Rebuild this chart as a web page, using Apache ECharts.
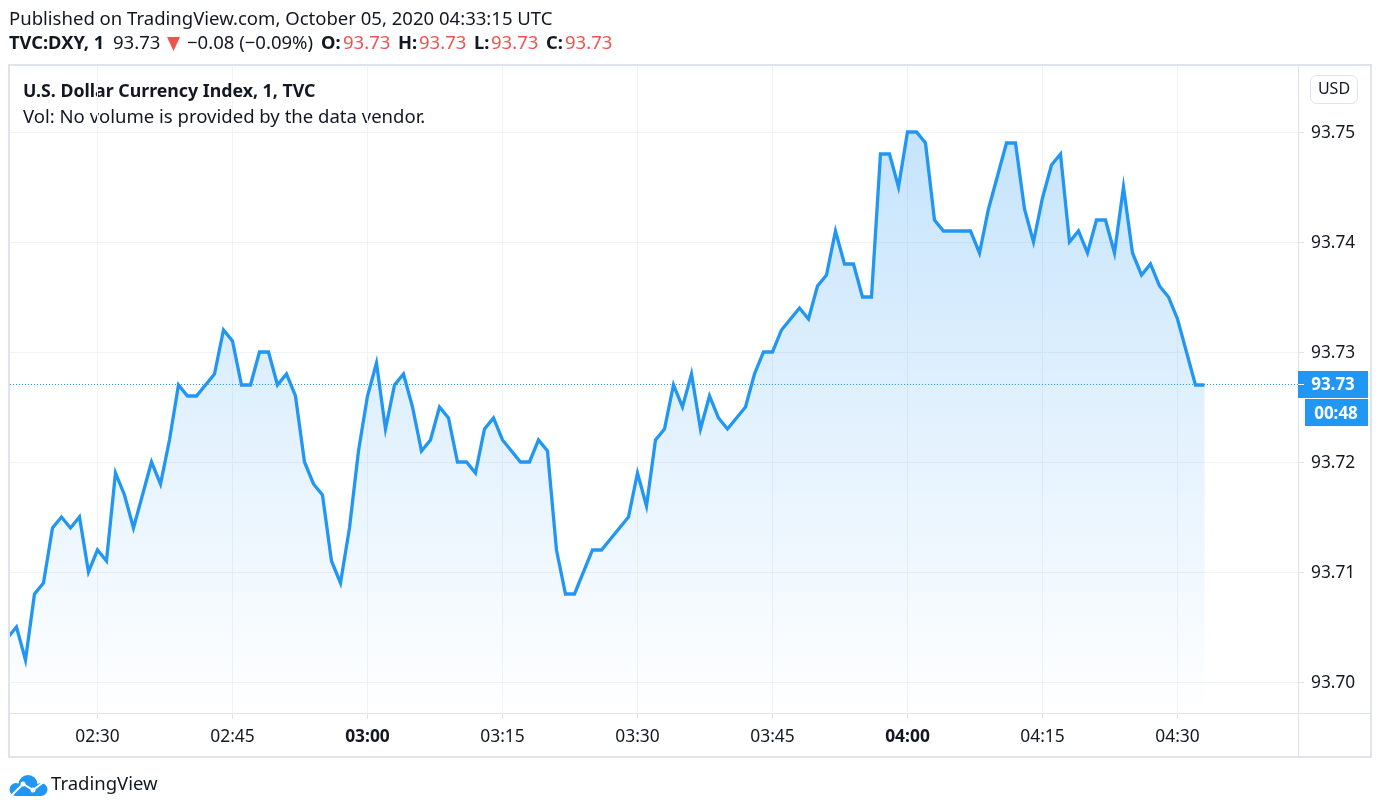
<!DOCTYPE html>
<html>
<head>
<meta charset="utf-8">
<title>U.S. Dollar Currency Index, 1, TVC</title>
<script src="https://cdn.jsdelivr.net/npm/echarts@6/dist/echarts.min.js"></script>
<style>
  html, body { margin: 0; padding: 0; background: #ffffff; }
  #chart { width: 1381px; height: 812px; }
</style>
</head>
<body>
<div id="chart"></div>
<script>
// One-minute closes of DXY, starting at 02:20 UTC
const firstBar = '02:20';
const closes = [
  93.704, 93.705, 93.702, 93.708, 93.709, 93.714, 93.715, 93.714, 93.715, 93.710,
  93.712, 93.711, 93.719, 93.717, 93.714, 93.717, 93.720, 93.718, 93.722, 93.727,
  93.726, 93.726, 93.727, 93.728, 93.732, 93.731, 93.727, 93.727, 93.730, 93.730,
  93.727, 93.728, 93.726, 93.720, 93.718, 93.717, 93.711, 93.709, 93.714, 93.721,
  93.726, 93.729, 93.723, 93.727, 93.728, 93.725, 93.721, 93.722, 93.725, 93.724,
  93.720, 93.720, 93.719, 93.723, 93.724, 93.722, 93.721, 93.720, 93.720, 93.722,
  93.721, 93.712, 93.708, 93.708, 93.710, 93.712, 93.712, 93.713, 93.714, 93.715,
  93.719, 93.716, 93.722, 93.723, 93.727, 93.725, 93.728, 93.723, 93.726, 93.724,
  93.723, 93.724, 93.725, 93.728, 93.730, 93.730, 93.732, 93.733, 93.734, 93.733,
  93.736, 93.737, 93.741, 93.738, 93.738, 93.735, 93.735, 93.748, 93.748, 93.745,
  93.750, 93.750, 93.749, 93.742, 93.741, 93.741, 93.741, 93.741, 93.739, 93.743,
  93.746, 93.749, 93.749, 93.743, 93.740, 93.744, 93.747, 93.748, 93.740, 93.741,
  93.739, 93.742, 93.742, 93.739, 93.745, 93.739, 93.737, 93.738, 93.736, 93.735,
  93.733, 93.730, 93.727, 93.727
];
const timeTicks = ['02:30', '02:45', '03:00', '03:15', '03:30', '03:45', '04:00', '04:15', '04:30'];
const boldTimeTicks = ['03:00', '04:00'];
const priceTicks = [93.70, 93.71, 93.72, 93.73, 93.74, 93.75];
const lastPriceLabel = '93.73';
const countdownLabel = '00:48';

const BLUE = '#2196f3';
const RED = '#ef5350';
const INK = '#131722';
const FRAME = '#e0e3eb';
const GRIDLINE = '#f0f3fa';
const FONT = '"Noto Sans", sans-serif';

const toMinutes = t => { const [h, m] = t.split(':').map(Number); return h * 60 + m; };
const toClock = v => {
  const h = Math.floor(v / 60), m = Math.round(v - h * 60);
  return String(h).padStart(2, '0') + ':' + String(m).padStart(2, '0');
};
const start = toMinutes(firstBar);
const points = closes.map((c, i) => [start + i, c]);
const lastClose = closes[closes.length - 1];

const headerText = (x, y, text, opts = {}) => ({
  type: 'text', x, y, silent: true,
  style: {
    text,
    fill: opts.fill || INK,
    font: (opts.bold ? 'bold ' : '') + (opts.size || 18.55) + 'px ' + FONT,
    textVerticalAlign: 'middle'
  }
});
const cloudLump = (cx, cy, r) => ({
  type: 'circle', silent: true, shape: { cx, cy, r }, style: { fill: BLUE }
});
const separator = (x1, y1, x2, y2) => ({
  type: 'line', silent: true, z: 5, shape: { x1, y1, x2, y2 }, style: { stroke: FRAME, lineWidth: 1 }
});

const chart = echarts.init(document.getElementById('chart'), null, { renderer: 'canvas' });

const staticGraphics = [
  // Outer frame of the pane, drawn over the plot so the clipped line ends at its edge
  { type: 'rect', z: 20, shape: { x: 9, y: 65, width: 1362, height: 692 },
    style: { fill: 'none', stroke: FRAME, lineWidth: 2 }, silent: true },
  // Separators between the plot and the two scales run the full width and height
  separator(1298.5, 66, 1298.5, 756),
  separator(10, 713.5, 1370, 713.5),

  headerText(9, 20, 'Published on TradingView.com, October 05, 2020 04:33:15 UTC'),
  headerText(9, 44, 'TVC:DXY, 1', { bold: true, size: 18.3 }),
  headerText(113, 44, '93.73'),
  { type: 'polygon', silent: true, shape: { points: [[167, 37], [180, 37], [173.5, 51]] }, style: { fill: RED } },
  headerText(187, 44, '\u22120.08 (\u22120.09%)'),
  headerText(321, 44, 'O:', { bold: true, size: 18.3 }),
  headerText(343, 44, '93.73', { fill: RED }),
  headerText(398, 44, 'H:', { bold: true, size: 18.3 }),
  headerText(419, 44, '93.73', { fill: RED }),
  headerText(474, 44, 'L:', { bold: true, size: 18.3 }),
  headerText(491, 44, '93.73', { fill: RED }),
  headerText(546, 44, 'C:', { bold: true, size: 18.3 }),
  headerText(565, 44, '93.73', { fill: RED }),

  headerText(23, 92, 'U.S. Dollar Currency Index, 1, TVC', { bold: true, size: 17.75 }),
  headerText(23, 118, 'Vol: No volume is provided by the data vendor.'),

  // Currency badge above the price scale
  { type: 'rect', silent: true, shape: { x: 1310.5, y: 75.5, width: 47, height: 28, r: 6 },
    style: { fill: '#ffffff', stroke: FRAME, lineWidth: 1 } },
  { type: 'text', silent: true, x: 1334, y: 89,
    style: { text: 'USD', fill: INK, font: '16px ' + FONT, textAlign: 'center', textVerticalAlign: 'middle' } },

  // Brand mark in the footer: a cloud built from overlapping lumps with a white trend line
  cloudLump(16, 789.5, 6.5),
  cloudLump(28, 784.5, 9.5),
  cloudLump(41, 789.5, 6.5),
  { type: 'rect', silent: true, shape: { x: 15, y: 787, width: 27, height: 9 }, style: { fill: BLUE } },
  { type: 'polyline', silent: true, shape: { points: [[11, 796], [23, 784], [33, 790], [45, 781]] },
    style: { fill: 'none', stroke: '#ffffff', lineWidth: 2 } },
  { type: 'circle', silent: true, shape: { cx: 23, cy: 784, r: 2.5 }, style: { fill: '#ffffff' } },
  { type: 'circle', silent: true, shape: { cx: 33, cy: 790, r: 2.5 }, style: { fill: '#ffffff' } },
  headerText(51, 785, 'TradingView')
];

chart.setOption({
  animation: false,
  backgroundColor: '#ffffff',
  grid: { left: 10, top: 66, width: 1288, height: 647, containLabel: false },
  xAxis: {
    type: 'value',
    min: 140.28,
    max: 283.39,
    axisLine: { show: false, onZero: false },
    axisTick: { show: true, length: 6, lineStyle: { color: FRAME }, customValues: timeTicks.map(toMinutes) },
    splitLine: { show: true, lineStyle: { color: GRIDLINE, width: 1 } },
    axisLabel: {
      customValues: timeTicks.map(toMinutes),
      margin: 16,
      color: INK,
      fontFamily: FONT,
      fontSize: 17.4,
      formatter: v => {
        const t = toClock(v);
        return boldTimeTicks.includes(t) ? '{b|' + t + '}' : t;
      },
      rich: { b: { fontWeight: 'bold', fontFamily: FONT, fontSize: 17.4, color: INK } }
    }
  },
  yAxis: {
    type: 'value',
    position: 'right',
    min: 93.69718,
    max: 93.756,
    axisLine: { show: false, onZero: false },
    axisTick: { show: true, length: 6, lineStyle: { color: FRAME }, customValues: priceTicks },
    splitLine: { show: true, lineStyle: { color: GRIDLINE, width: 1 } },
    axisLabel: {
      customValues: priceTicks,
      margin: 13,
      color: INK,
      fontFamily: FONT,
      fontSize: 17.3,
      formatter: v => '{p|' + v.toFixed(2) + '}',
      rich: { p: { padding: [3, 0, 0, 0], fontFamily: FONT, fontSize: 17.3, color: INK } }
    }
  },
  series: [{
    type: 'line',
    data: points,
    showSymbol: false,
    symbol: 'none',
    smooth: false,
    clip: true,
    lineStyle: { color: BLUE, width: 3.3, join: 'miter', miterLimit: 10, cap: 'butt' },
    areaStyle: {
      origin: 'start',
      opacity: 1,
      color: new echarts.graphic.LinearGradient(0, 0, 0, 1, [
        { offset: 0, color: 'rgba(33,150,243,0.26)' },
        { offset: 1, color: 'rgba(33,150,243,0.00)' }
      ])
    }
  }],
  graphic: staticGraphics
});

// The dotted last-price line and its tags follow the scale position of the last close
const tagY = Math.round(chart.convertToPixel({ yAxisIndex: 0 }, lastClose));
const tagText = (x, y, text) => ({
  type: 'text', silent: true, x, y, z: 11,
  style: { text, fill: '#ffffff', font: 'bold 17px ' + FONT, textAlign: 'center', textVerticalAlign: 'middle' }
});
chart.setOption({
  graphic: staticGraphics.concat([
    { type: 'line', silent: true, z: 4, shape: { x1: 10, y1: tagY - 0.5, x2: 1298, y2: tagY - 0.5 },
      style: { stroke: BLUE, lineWidth: 1, lineDash: [1, 2] } },
    { type: 'rect', silent: true, z: 10, shape: { x: 1298, y: tagY - 14, width: 70, height: 27 }, style: { fill: BLUE } },
    { type: 'line', silent: true, z: 11, shape: { x1: 1298, y1: tagY - 0.5, x2: 1304, y2: tagY - 0.5 }, style: { stroke: '#ffffff', lineWidth: 1 } },
    tagText(1333, tagY, lastPriceLabel),
    { type: 'rect', silent: true, z: 10, shape: { x: 1305, y: tagY + 14, width: 63, height: 27 }, style: { fill: BLUE } },
    tagText(1336, tagY + 29, countdownLabel)
  ])
});
</script>
</body>
</html>
